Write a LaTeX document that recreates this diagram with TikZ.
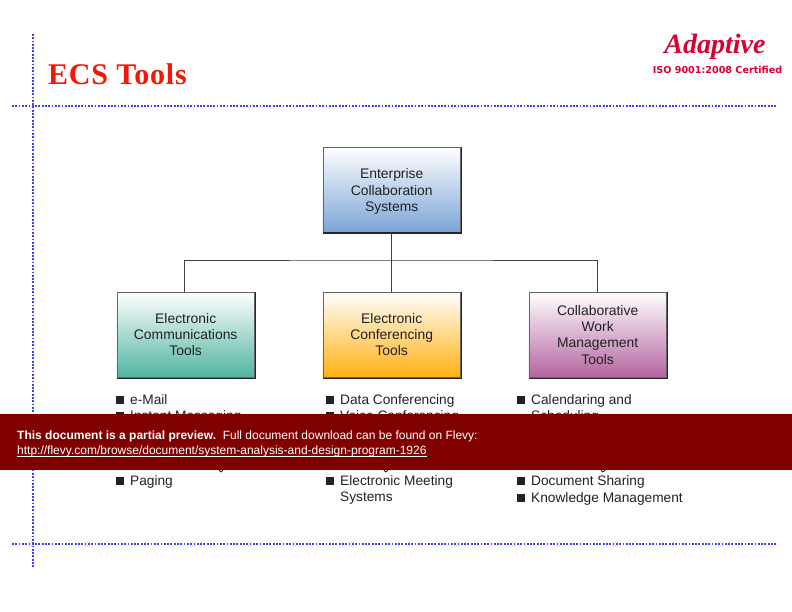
\documentclass[tikz,border=0pt]{standalone}
\usepackage{fontspec}
\setmainfont{Liberation Sans}
\newfontfamily\serifbf{Liberation Serif}
\newfontfamily\dvbf{DejaVu Sans}
\definecolor{dotblue}{HTML}{4040F8}
\definecolor{titlered}{HTML}{F01808}
\definecolor{logored}{HTML}{D80030}
\definecolor{banner}{HTML}{800000}
\definecolor{ink}{HTML}{222222}
\definecolor{boxblue}{HTML}{7AA4D6}
\definecolor{boxteal}{HTML}{50B4A0}
\definecolor{boxamber}{HTML}{FFB010}
\definecolor{boxplum}{HTML}{B464A0}
\newcommand{\lowerline}{\rule{0pt}{13.5pt}}
\tikzset{
  x=1pt,y=-1pt,
  dotline/.style={draw=dotblue,line width=1.5pt,dash pattern=on 1.8pt off 1.5pt},
  orgbox/.style={draw=black!60,line width=.5pt,minimum width=137.5pt,minimum height=85.5pt,inner sep=0pt,
    align=center,text=ink,font=\fontsize{13.9}{16.3}\selectfont,anchor=north west},
  edge shadow/.style={draw=black!85,line width=1.4pt},
  link/.style={draw=black!75,line width=.9pt},
  itemtext/.style={anchor=base west,inner sep=0pt,text=ink,font=\fontsize{13.7}{16.3}\selectfont,align=left},
  bulletmark/.style={fill=ink,minimum size=8pt,inner sep=0pt},
  tail/.style={draw=ink,line width=.9pt},
}
\newcommand{\bitem}[4]{% name, x of bullet, y of baseline, text
  \node[bulletmark] (#1b) at (#2+4,#3-4.5) {};
  \node[itemtext] (#1) at (#2+14,#3) {#4};
}
\newcommand{\shadowed}[1]{%
  \draw[edge shadow] ([xshift=.5pt]#1.north east) -- ([xshift=.5pt,yshift=-.5pt]#1.south east) -- ([yshift=-.5pt]#1.south west);
}
\begin{document}
\begin{tikzpicture}
\useasboundingbox (0,0) rectangle (792,612);
\fill[white] (0,0) rectangle (792,612);
% rules
\coordinate (hta) at (12,106); \coordinate (htb) at (777,106);
\coordinate (hba) at (12,544); \coordinate (hbb) at (777,544);
\coordinate (va) at (33,34); \coordinate (vb) at (33,567);
\draw[dotline] (hta) -- (htb);
\draw[dotline] (hba) -- (hbb);
\draw[dotline] (va) -- (vb);
% title + logo
\node[anchor=base west,inner sep=0pt,text=titlered,font=\serifbf\bfseries\fontsize{30}{30}\selectfont\addfontfeatures{LetterSpace=2.6}] (title) at (48,84.5) {ECS Tools};
\node[anchor=base,inner sep=0pt,text=logored,font=\serifbf\bfseries\itshape\fontsize{28}{28}\selectfont] (logo) at (715,54) {Adaptive};
\node[anchor=base,inner sep=0pt,text=logored,font=\dvbf\bfseries\fontsize{9.6}{10}\selectfont] (cert) at (717.5,74) {ISO 9001:2008 Certified};
% boxes
\node[orgbox,top color=white,bottom color=boxblue] (top) at (322.7,146.7) {\lowerline Enterprise\\Collaboration\\Systems};
\node[orgbox,top color=white,bottom color=boxteal] (left) at (116.7,291.7) {Electronic\\Communications\\Tools};
\node[orgbox,top color=white,bottom color=boxamber] (mid) at (322.7,291.7) {Electronic\\Conferencing\\Tools};
\node[orgbox,top color=white,bottom color=boxplum] (right) at (528.7,291.7) {Collaborative\\Work\\Management\\Tools};
\shadowed{top}\shadowed{left}\shadowed{mid}\shadowed{right}
% connectors
\coordinate (bus) at (392,260);
\draw[link] (top.south) -- (mid.north);
\draw[link] ([xshift=-1.2pt]left.north) |- (bus) -| (right.north);
% lists
\bitem{la}{116}{404}{e-Mail}
\bitem{lb}{116}{420.3}{Instant Messaging}
\bitem{lf}{116}{485}{Paging}
\bitem{ma}{326}{404}{Data Conferencing}
\bitem{mb}{326}{420.3}{Voice Conferencing}
\node[bulletmark] (mfb) at (330,481) {};
\node[itemtext] (mf) at (340,501.8) {Electronic Meeting\\Systems};
\node[bulletmark] (rab) at (521,399.5) {};
\node[itemtext] (ra) at (531,420.3) {Calendaring and\\Scheduling};
\bitem{re}{517}{485.5}{Document Sharing}
\bitem{rf}{517}{502}{Knowledge Management}
% tails of lines that run under the banner
\coordinate (t1a) at (219,470); \coordinate (t1b) at (223,470);
\coordinate (t2a) at (384,470); \coordinate (t2b) at (388,470);
\coordinate (t3a) at (601,470); \coordinate (t3b) at (605,470);
\draw[tail] (t1a) .. controls (219.5,472.5) and (222.5,472.5) .. (t1b);
\draw[tail] (t2a) .. controls (384.5,472.5) and (386,472.5) .. (t2b);
\draw[tail] (t3a) .. controls (601.5,472.5) and (603,472.5) .. (t3b);
% banner
\node[anchor=north west,fill=banner,minimum width=792pt,minimum height=56pt,inner sep=0pt] (band) at (0,414) {};
\node[anchor=base west,inner sep=0pt,text=white,font=\fontsize{12}{14}\selectfont] (note) at (17,439) {\textbf{This document is a partial preview.}\ \ Full document download can be found on Flevy:};
\node[anchor=base west,inner sep=0pt,text=white,font=\fontsize{12}{14}\selectfont] (url) at (17,454.5) {http://flevy.com/browse/document/system-analysis-and-design-program-1926};
\draw[white,line width=.5pt] ([yshift=-1.3pt]url.base west) -- ([yshift=-1.3pt]url.base east);
\end{tikzpicture}
\end{document}
